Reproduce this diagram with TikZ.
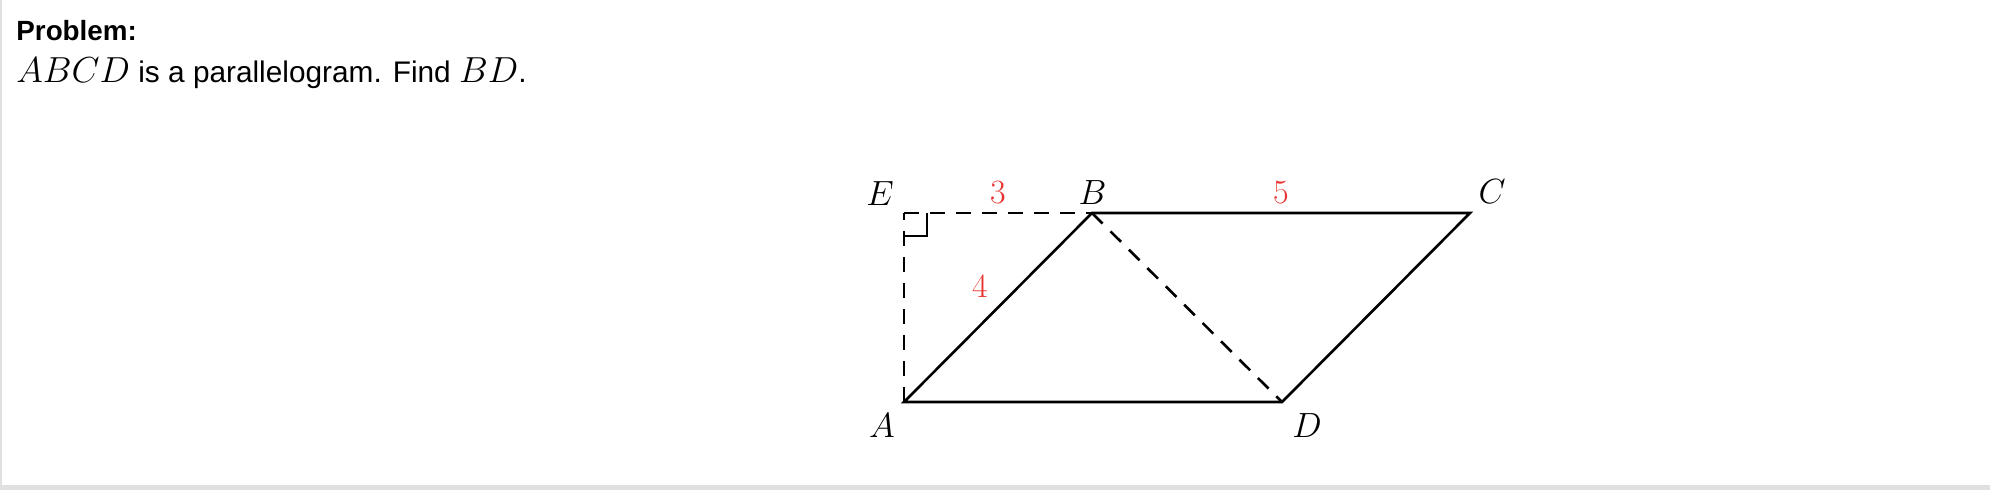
\RequirePackage{fix-cm}
\documentclass[tikz,border=0pt]{standalone}
\usepackage{fontspec}
\setmainfont{Liberation Sans}
\definecolor{lblred}{RGB}{232,52,48}
\definecolor{bandgray}{RGB}{224,224,224}
\begin{document}
\begin{tikzpicture}[x=0.5pt,y=-0.5pt,
  edge/.style={line width=1.3pt,line join=miter},
  dashedge/.style={line width=1.3pt,dash pattern=on 7.5pt off 5.5pt},
  ptlabel/.style={inner sep=0pt,font=\fontsize{17.5}{21}\selectfont},
  numlabel/.style={inner sep=0pt,text=lblred,font=\fontsize{17}{21}\selectfont}]
\useasboundingbox (0,0) rectangle (1990,490);
\fill[white] (0,0) rectangle (1990,490);
\fill[bandgray] (0,485) rectangle (1990,490);
\fill[bandgray] (0,0) rectangle (1.5,485);
% header text
\node[anchor=base west,inner sep=0pt,font=\fontsize{13.9}{16}\selectfont\bfseries] (title) at (16,41) {Problem:};
\node[anchor=base west,inner sep=0pt,font=\fontsize{14.9}{17}\selectfont] (prob) at (16,82.7)
  {{\fontsize{18.1}{22}\selectfont$ABCD$} is a parallelogram. Find {\fontsize{18.1}{22}\selectfont$BD$}.};
% points
\coordinate (E) at (904,213);
\coordinate (B) at (1092,213);
\coordinate (C) at (1470,213);
\coordinate (A) at (904,402);
\coordinate (D) at (1282,402);
\coordinate (R1) at (927,213);
\coordinate (R2) at (927,236);
\coordinate (R3) at (904,236);
% edges
\draw[edge] (A) -- (B) -- (C) -- (D) -- cycle;
\draw[dashedge] (A) -- (E);
\draw[dashedge] (E) -- (B);
\draw[dashedge] (B) -- (D);
\draw[edge] (R1) -- (R2) -- (R3);
% labels
\node[ptlabel] (lE) at (880,193.5) {$E$};
\node[ptlabel] (lB) at (1092.5,193) {$B$};
\node[ptlabel] (lC) at (1492,192) {$C$};
\node[ptlabel] (lA) at (882,426) {$A$};
\node[ptlabel] (lD) at (1307,426) {$D$};
\node[numlabel] (l3) at (998,193) {$3$};
\node[numlabel] (l5) at (1281,193) {$5$};
\node[numlabel] (l4) at (980,287) {$4$};
\end{tikzpicture}
\end{document}
